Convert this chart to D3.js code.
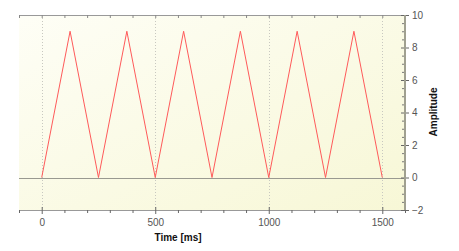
<!DOCTYPE html>
<html><head><meta charset="utf-8">
<script src="https://cdn.jsdelivr.net/npm/d3@7"></script>
<style>body{margin:0;background:#fff}svg{display:block}</style>
</head><body>
<svg id="c" width="459" height="251"></svg>
<script>
const timeMs = [0,125,250,375,500,625,750,875,1000,1125,1250,1375,1500];
const amplitude = [0,9,0,9,0,9,0,9,0,9,0,9,0];
const xTicks = [0,500,1000,1500];
const yTicks = [-2,0,2,4,6,8,10];
const xTitle = "Time [ms]";
const yTitle = "Amplitude";

const svg = d3.select("#c");
const L=19, R=405, T=15, B=210;
const x = d3.scaleLinear().domain([-100,1600]).range([L,R]);
const y = d3.scaleLinear().domain([-2,10]).range([B,T]);
const fnt = "Liberation Sans, Arial, sans-serif";

const defs = svg.append("defs");
const g = defs.append("linearGradient").attr("id","bg").attr("x1","0").attr("y1","0").attr("x2","1").attr("y2","1");
g.append("stop").attr("offset","0").attr("stop-color","#fefef6");
g.append("stop").attr("offset","1").attr("stop-color","#f7f7d6");
svg.append("rect").attr("x",L).attr("y",T).attr("width",R-L).attr("height",B-T).attr("fill","url(#bg)");

// vertical dotted grid
svg.selectAll(".vg").data(xTicks).join("line")
  .attr("x1",d=>Math.round(x(d))+0.5).attr("x2",d=>Math.round(x(d))+0.5)
  .attr("y1",T).attr("y2",B).attr("stroke","#c8c8c0").attr("stroke-dasharray","1,2");

// zero line
svg.append("line").attr("x1",L).attr("x2",R).attr("y1",Math.round(y(0))+0.5).attr("y2",Math.round(y(0))+0.5)
  .attr("stroke","#999990").attr("stroke-width",1);

// data line
const line = d3.line().x((d,i)=>x(timeMs[i])).y(d=>y(d));
svg.append("path").datum(amplitude).attr("d",line).attr("fill","none").attr("stroke","#ff5a5a").attr("stroke-width",1);

// top axis (ticks only)
const xMinor = d3.range(-100,1601,100);
const topAx = d3.axisTop(x).tickValues(xMinor).tickSize(-3).tickFormat("");
const ta = svg.append("g").attr("transform",`translate(0,${T})`).call(topAx);
ta.select(".domain").attr("stroke","#999").attr("d",`M${L},0.5H${R}`);
ta.selectAll(".tick line").attr("stroke","#888");

// bottom axis
const botMinor = d3.axisBottom(x).tickValues(xMinor.filter(v=>!xTicks.includes(v))).tickSize(3).tickFormat("");
const bm = svg.append("g").attr("transform",`translate(0,${B})`).call(botMinor);
bm.select(".domain").attr("stroke","#999").attr("d",`M${L},0.5H${R}`);
bm.selectAll(".tick line").attr("stroke","#666");
const botMajor = d3.axisBottom(x).tickValues(xTicks).tickSize(4).tickPadding(5).tickFormat(d3.format("d"));
const bM = svg.append("g").attr("transform",`translate(0,${B})`).call(botMajor);
bM.select(".domain").remove();
bM.selectAll(".tick line").attr("stroke","#666").attr("y1",-3).attr("y2",4);
bM.selectAll("text").attr("fill","#555").attr("font-family",fnt).attr("font-size",10);

// right axis
const yMinor = d3.range(-2,10.01,0.5).filter(v=>v%2!==0);
const rMin = d3.axisRight(y).tickValues(yMinor).tickSize(-3).tickFormat("");
const rm = svg.append("g").attr("transform",`translate(${R},0)`).call(rMin);
rm.select(".domain").remove();
rm.selectAll(".tick line").attr("stroke","#777");
const rMaj = d3.axisRight(y).tickValues(yTicks).tickSize(4).tickPadding(3).tickFormat(d3.format("d"));
const rM = svg.append("g").attr("transform",`translate(${R},0)`).call(rMaj);
rM.select(".domain").remove();
rM.selectAll(".tick line").attr("stroke","#666").attr("x1",-4).attr("x2",4);
rM.selectAll("text").attr("fill","#555").attr("font-family",fnt).attr("font-size",10);
svg.append("line").attr("x1",R).attr("x2",R).attr("y1",T).attr("y2",B).attr("stroke","#a0a090").attr("stroke-width",2);

// titles
svg.append("text").attr("x",178).attr("y",241).attr("text-anchor","middle")
  .attr("font-family",fnt).attr("font-size",10).attr("font-weight","bold").attr("fill","#111").text(xTitle);
svg.append("text").attr("transform","translate(437,112) rotate(-90)").attr("text-anchor","middle")
  .attr("font-family",fnt).attr("font-size",10).attr("font-weight","bold").attr("fill","#111").text(yTitle);
</script>
</body></html>
